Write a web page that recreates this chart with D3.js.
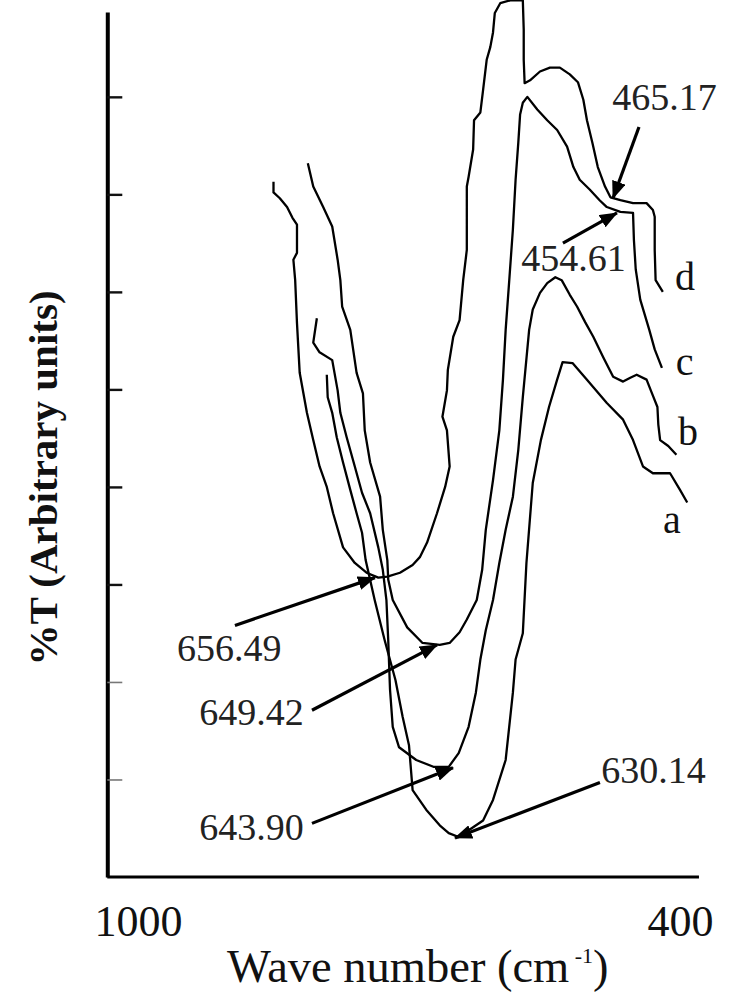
<!DOCTYPE html>
<html><head><meta charset="utf-8">
<script src="https://cdn.jsdelivr.net/npm/d3@7"></script>
<style>body{margin:0;background:#fff}svg{display:block}</style>
</head><body><svg id="chart" width="732" height="993"></svg>
<script>
// ---- data: [wave number (cm-1), %T (arbitrary units)] ----
const curveA = [[791,51.5],[790,49.2],[785,47.6],[780,45.1],[773,42.5],[765,39.7],[758,37.3],[752,35.3],[748,32.5],[738,28.4],[727,24.3],[715,20.2],[707,16.4],[700,13.5],[696,8.9],[681,6.9],[666,5.3],[656,4.5],[645,4.1],[629,5.1],[618,5.8],[607,7.9],[593,12.0],[585,18.9],[582,22.3],[574,25.0],[570,32.2],[563,40.4],[554,44.8],[545,48.2],[536,51.0],[530,52.8],[519,52.7],[503,51.0],[481,48.6],[463,46.9],[452,44.8],[441,42.1],[430,41.4],[411,41.4],[400,39.7],[392,38.4]];
const curveB = [[802,57.3],[806,54.8],[799,53.8],[785,53.0],[779,49.9],[776,47.6],[769,45.1],[760,42.1],[752,39.4],[743,37.3],[734,33.8],[729,31.5],[725,28.4],[723,24.3],[721,19.2],[718,15.4],[711,13.3],[692,12.0],[673,11.3],[656,11.3],[645,12.7],[634,15.4],[626,18.9],[621,22.3],[615,25.3],[607,28.4],[600,32.2],[593,35.6],[585,39.0],[579,43.8],[574,49.2],[567,56.1],[563,58.2],[555,59.9],[547,60.9],[538,61.5],[531,61.2],[522,59.7],[514,58.5],[505,56.9],[496,55.4],[485,53.3],[474,51.3],[463,50.8],[455,51.2],[448,51.5],[437,51.0],[431,49.6],[425,48.2],[424,46.4],[422,44.8],[413,44.2],[404,43.3]];
const curveC = [[812,73.2],[806,70.8],[795,68.7],[785,66.7],[779,63.3],[776,61.2],[774,58.5],[765,56.1],[758,51.7],[751,49.6],[749,45.8],[743,42.5],[732,39.0],[729,35.6],[724,32.5],[723,30.5],[718,28.4],[702,25.6],[685,24.0],[666,23.8],[655,24.0],[644,25.1],[636,26.4],[625,28.4],[619,31.5],[615,35.6],[607,40.7],[600,45.8],[596,51.0],[593,56.1],[589,61.2],[585,66.4],[582,71.5],[579,75.3],[577,78.2],[574,79.4],[569,80.0],[558,78.7],[547,77.6],[536,76.6],[525,74.9],[518,72.8],[511,71.5],[500,70.5],[489,69.4],[481,68.7],[466,68.2],[452,68.1],[451,65.3],[449,62.3],[444,59.2],[434,56.1],[428,54.1],[420,52.2]];
const curveD = [[850,71.3],[850,70.2],[843,69.6],[835,68.7],[829,67.6],[824,66.9],[824,64.0],[828,63.3],[826,61.2],[824,56.8],[821,51.7],[813,47.6],[806,44.8],[799,42.1],[791,40.0],[784,37.3],[773,33.8],[760,32.2],[747,31.2],[734,30.7],[724,30.8],[710,31.2],[696,32.0],[688,32.8],[680,34.3],[669,37.3],[660,40.0],[655,42.1],[658,45.8],[663,47.2],[658,49.9],[657,52.0],[651,55.4],[644,57.1],[640,61.2],[636,64.3],[636,70.8],[634,71.8],[629,74.6],[628,77.6],[621,78.4],[618,80.7],[614,83.8],[610,85.1],[607,86.6],[605,88.6],[599,89.6],[588,89.9],[574,89.9],[573,86.9],[573,83.8],[572,81.4],[566,81.7],[555,82.6],[544,83.0],[533,83.0],[522,82.3],[513,81.5],[507,79.7],[503,77.6],[497,75.3],[491,72.8],[483,70.8],[477,69.7],[466,69.4],[452,69.1],[437,69.1],[430,68.4],[428,67.7],[428,64.3],[427,61.2],[419,60.0]];

const curveNames = ["a","b","c","d"];
const curveLabelPos = [[408.9,35.3],[391.2,44.3],[395,51.5],[394.5,60.2]];

const xTickValues = [1000, 400];
const yTickValues = [10,20,30,40,50,60,70,80];
const xAxisExtent = [1034, 379];

const annLabels = ["656.49","649.42","643.90","630.14","465.17","454.61"];
const annTip  = [[737.7,30.7],[669,23.8],[651.3,11.2],[649.1,4.0],[474.2,69.6],[469.8,68.1]];
const annTail = [[892.7,25.8],[807.4,17.1],[807.4,5.5],[488.6,9.7],[445.4,76.9],[529.6,65.0]];
const annText = [[899,22.2],[874.4,15.6],[874.4,3.8],[429.4,9.6],[417.2,78.7],[517.9,62.1]];

// ---- drawing ----
const svg = d3.select("#chart");
const FONT = "'Liberation Serif','Times New Roman',serif";
const x = d3.scaleLinear().domain([1000,400]).range([138,680]);
const y = d3.scaleLinear().domain([0,88.7]).range([877,12]);

svg.append("defs").append("marker")
  .attr("id","ah").attr("markerUnits","userSpaceOnUse")
  .attr("markerWidth",18).attr("markerHeight",14)
  .attr("refX",17).attr("refY",7).attr("orient","auto")
  .append("path").attr("d","M0,0 L18,7 L0,14 Z").attr("fill","#000");

// y axis
const yAx = svg.append("g").attr("transform",`translate(${x(xAxisExtent[0])},0)`)
  .call(d3.axisRight(y).tickValues(yTickValues).tickSize(15).tickSizeOuter(0).tickFormat(""));
yAx.select(".domain").attr("stroke","#000").attr("stroke-width",4);
yAx.selectAll(".tick line").attr("stroke", d => d <= 20 ? "#777" : "#111").attr("stroke-width", d => d <= 20 ? 1.6 : 2.4);

// x axis
svg.append("line").attr("x1",x(xAxisExtent[0])).attr("x2",x(xAxisExtent[1]))
  .attr("y1",y(0)).attr("y2",y(0)).attr("stroke","#000").attr("stroke-width",3);
const xAx = svg.append("g").attr("transform",`translate(0,${y(0)})`)
  .call(d3.axisBottom(x).tickValues(xTickValues).tickSize(0).tickPadding(28).tickFormat(d3.format("d")));
xAx.select(".domain").remove();
xAx.selectAll("text").attr("font-family",FONT).attr("font-size",44).attr("fill","#111");

// titles
svg.append("text").attr("transform","translate(57,478) rotate(-90)")
  .attr("text-anchor","middle").attr("font-family",FONT).attr("font-weight","bold")
  .attr("font-size",41).attr("fill","#111").text("%T (Arbitrary units)");
const xt = svg.append("text").attr("x",227).attr("y",982).attr("font-family",FONT)
  .attr("font-size",46.5).attr("fill","#111");
xt.append("tspan").text("Wave number (cm");
xt.append("tspan").attr("font-size",22).attr("dy",-19).text(" -1");
xt.append("tspan").attr("dy",19).text(")");

// curves
const line = d3.line().x(d => x(d[0])).y(d => y(d[1]));
const curves = [curveA, curveB, curveC, curveD];
svg.append("g").selectAll("path").data(curves).join("path")
  .attr("d", line).attr("fill","none").attr("stroke","#000")
  .attr("stroke-width",2.3).attr("stroke-linejoin","round");

// curve labels
svg.append("g").selectAll("text").data(curveNames).join("text")
  .attr("x",(d,i)=>x(curveLabelPos[i][0])).attr("y",(d,i)=>y(curveLabelPos[i][1]))
  .attr("text-anchor","middle").attr("font-family",FONT).attr("font-size",40)
  .attr("fill","#111").text(d=>d);

// annotations
const ann = svg.append("g");
ann.selectAll("line").data(annLabels).join("line")
  .attr("x1",(d,i)=>x(annTail[i][0])).attr("y1",(d,i)=>y(annTail[i][1]))
  .attr("x2",(d,i)=>x(annTip[i][0])).attr("y2",(d,i)=>y(annTip[i][1]))
  .attr("stroke","#000").attr("stroke-width",3.2).attr("marker-end","url(#ah)");
ann.selectAll("text").data(annLabels).join("text")
  .attr("x",(d,i)=>x(annText[i][0])).attr("y",(d,i)=>y(annText[i][1]))
  .attr("text-anchor","middle").attr("font-family",FONT).attr("font-size",38)
  .attr("fill","#222").text(d=>d);
</script></body></html>
